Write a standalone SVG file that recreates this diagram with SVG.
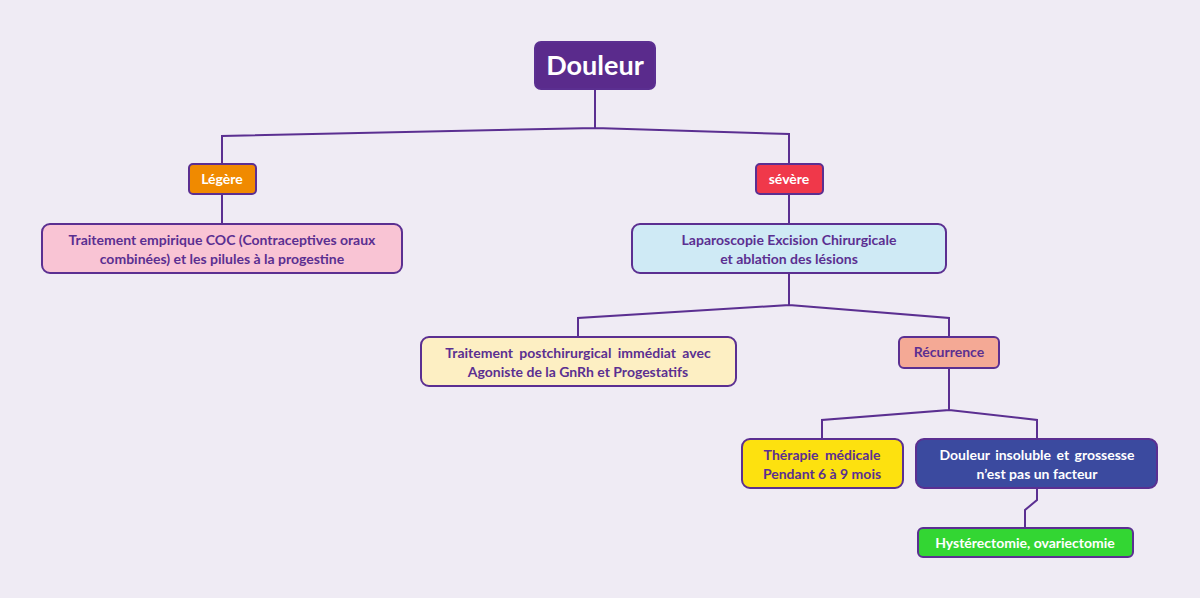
<svg xmlns="http://www.w3.org/2000/svg" width="1200" height="598" viewBox="0 0 1200 598">
<style>
.b{stroke:#5b2f91;stroke-width:2}
.c{fill:none;stroke:#5b2f91;stroke-width:2}
text{font-family:Lato,"Open Sans",sans-serif;font-weight:bold;font-size:14px;text-anchor:middle;fill:#5b2f91}
.w{fill:#fff}
</style>
<rect width="1200" height="598" fill="#efebf4"/>
<g id="connectors">
<path class="c" d="M595,89V128L222,136V164M595,128L789,134V164"/>
<path class="c" d="M222,194V224M789,194V224"/>
<path class="c" d="M789,273V305L578,318V337M789,305L949,318V337"/>
<path class="c" d="M949,368V410L822,420V439M949,410L1037,420V439"/>
<path class="c" d="M1037,488V500L1025,510V528"/>
</g>
<g id="douleur"><rect class="b" x="535" y="42" width="120" height="47" rx="6" fill="#5a2b8c"/><text class="w" x="595" y="75" style="font-size:27px">Douleur</text></g>
<g id="legere"><rect class="b" x="189" y="164" width="67" height="30" rx="4" fill="#f08a00"/><text class="w" x="222" y="184">Légère</text></g>
<g id="severe"><rect class="b" x="756" y="164" width="67" height="30" rx="4" fill="#f0384a"/><text class="w" x="789" y="184">sévère</text></g>
<g id="coc"><rect class="b" x="42" y="224" width="360" height="49" rx="8" fill="#f9c4d4"/><text x="222" y="245">Traitement empirique COC (Contraceptives oraux</text><text x="222" y="264">combinées) et les pilules à la progestine</text></g>
<g id="lapa"><rect class="b" x="632" y="224" width="314" height="49" rx="8" fill="#cfeaf5"/><text x="789" y="245">Laparoscopie Excision Chirurgicale</text><text x="789" y="264">et ablation des lésions</text></g>
<g id="postchir"><rect class="b" x="421" y="337" width="315" height="49" rx="8" fill="#fdefc3"/><text x="578" y="358" word-spacing="3">Traitement postchirurgical immédiat avec</text><text x="578" y="377">Agoniste de la GnRh et Progestatifs</text></g>
<g id="recurrence"><rect class="b" x="899" y="337" width="100" height="31" rx="5" fill="#f4a995"/><text x="949" y="357">Récurrence</text></g>
<g id="therapie"><rect class="b" x="742" y="439" width="161" height="49" rx="8" fill="#fde10f"/><text x="822" y="460" word-spacing="3">Thérapie médicale</text><text x="822" y="479">Pendant 6 à 9 mois</text></g>
<g id="insoluble"><rect class="b" x="916" y="439" width="241" height="49" rx="8" fill="#3b4a9f"/><text class="w" x="1037" y="460" word-spacing="2">Douleur insoluble et grossesse</text><text class="w" x="1037" y="479">n’est pas un facteur</text></g>
<g id="hyst"><rect class="b" x="918" y="528" width="215" height="29" rx="5" fill="#33d633"/><text class="w" x="1025" y="548">Hystérectomie, ovariectomie</text></g>
</svg>
